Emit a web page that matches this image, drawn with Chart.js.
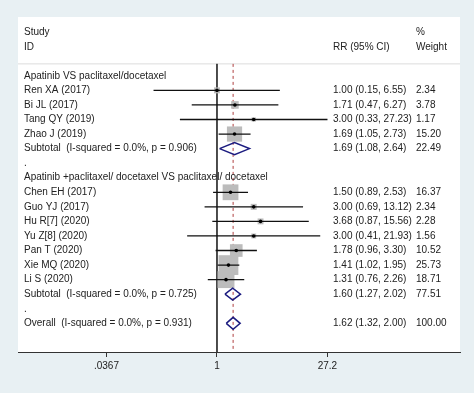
<!DOCTYPE html>
<html>
<head>
<meta charset="utf-8">
<script src="https://cdn.jsdelivr.net/npm/chart.js@4.4.1/dist/chart.umd.min.js"></script>
<style>
  html, body { margin: 0; padding: 0; background: #e8f0f3; }
  #wrap { width: 474px; height: 393px; }
</style>
</head>
<body>
<div id="wrap"><canvas id="forest" width="474" height="393"></canvas></div>
<script>
// studies
const studyLabels = ['Ren XA (2017)', 'Bi JL (2017)', 'Tang QY (2019)', 'Zhao J (2019)',
    'Chen EH (2017)', 'Guo YJ (2017)', 'Hu R[7] (2020)', 'Yu Z[8] (2020)',
    'Pan T (2020)', 'Xie MQ (2020)', 'Li S (2020)'];
const studyRR = [1.00, 1.71, 3.00, 1.69, 1.50, 3.00, 3.68, 3.00, 1.78, 1.41, 1.31];
const studyLower = [0.15, 0.47, 0.33, 1.05, 0.89, 0.69, 0.87, 0.41, 0.96, 1.02, 0.76];
const studyUpper = [6.55, 6.27, 27.23, 2.73, 2.53, 13.12, 15.56, 21.93, 3.30, 1.95, 2.26];
const studyWeight = [2.34, 3.78, 1.17, 15.20, 16.37, 2.34, 2.28, 1.56, 10.52, 25.73, 18.71];
const studyRows = [1, 2, 3, 4, 8, 9, 10, 11, 12, 13, 14];

// pooled estimates
const pooledLabels = ['Subtotal  (I-squared = 0.0%, p = 0.906)',
    'Subtotal  (I-squared = 0.0%, p = 0.725)',
    'Overall  (I-squared = 0.0%, p = 0.931)'];
const pooledRR = [1.69, 1.60, 1.62];
const pooledLower = [1.08, 1.27, 1.32];
const pooledUpper = [2.64, 2.02, 2.00];
const pooledWeight = [22.49, 77.51, 100.00];
const pooledRows = [5, 15, 17];

// group headers and spacer rows
const groupLabels = ['Apatinib VS paclitaxel/docetaxel',
    'Apatinib +paclitaxel/ docetaxel VS paclitaxel/ docetaxel'];
const groupRows = [0, 7];
const spacerRows = [6, 16];

// x axis ticks
const tickValues = [0.0367, 1, 27.2];
const tickLabels = ['.0367', '1', '27.2'];

const OVERALL = pooledRR[2];
const Y_MIN = -4.04;
const Y_MAX = 18.97;
const HEADER_LINE = -0.82;
const DIAMOND_HALF = 0.41;

const LABEL_X = 24;
const RR_X = 333;
const WEIGHT_X = 416;

function fmt(v) {
    return v.toFixed(2);
}

function ciText(rr, lo, hi) {
    return fmt(rr) + ' (' + fmt(lo) + ', ' + fmt(hi) + ')';
}

function buildCiLines() {
    let pts = [];
    studyRows.forEach((row, i) => {
        pts.push({x: Math.log10(studyLower[i]), y: row});
        pts.push({x: Math.log10(studyUpper[i]), y: row});
        pts.push({x: null, y: null});
    });
    return pts;
}

function buildDiamonds() {
    let pts = [];
    pooledRows.forEach((row, i) => {
        const lo = Math.log10(pooledLower[i]);
        const hi = Math.log10(pooledUpper[i]);
        const mid = Math.log10(pooledRR[i]);
        pts.push({x: lo, y: row});
        pts.push({x: mid, y: row - DIAMOND_HALF});
        pts.push({x: hi, y: row});
        pts.push({x: mid, y: row + DIAMOND_HALF});
        pts.push({x: lo, y: row});
        pts.push({x: null, y: null});
    });
    return pts;
}

const panelPlugin = {
    id: 'panel',
    beforeDraw(chart) {
        const ctx = chart.ctx;
        const area = chart.chartArea;
        ctx.save();
        ctx.fillStyle = '#e8f0f3';
        ctx.fillRect(0, 0, chart.width, chart.height);
        ctx.fillStyle = '#ffffff';
        ctx.fillRect(area.left, area.top, area.right - area.left, area.bottom - area.top);
        const yLine = chart.scales.y.getPixelForValue(HEADER_LINE);
        ctx.strokeStyle = '#dcdcdc';
        ctx.lineWidth = 1;
        ctx.beginPath();
        ctx.moveTo(area.left, yLine);
        ctx.lineTo(area.right, yLine);
        ctx.stroke();
        ctx.restore();
    }
};

const textPlugin = {
    id: 'forestText',
    afterDatasetsDraw(chart) {
        const ctx = chart.ctx;
        const y = chart.scales.y;
        ctx.save();
        ctx.font = '10px "Liberation Sans", Arial, sans-serif';
        ctx.fillStyle = '#222';
        ctx.textBaseline = 'middle';
        ctx.textAlign = 'left';

        ctx.fillText('Study', LABEL_X, y.getPixelForValue(-3.0));
        ctx.fillText('ID', LABEL_X, y.getPixelForValue(-1.97));
        ctx.fillText('RR (95% CI)', RR_X, y.getPixelForValue(-1.97));
        ctx.fillText('%', WEIGHT_X, y.getPixelForValue(-3.0));
        ctx.fillText('Weight', WEIGHT_X, y.getPixelForValue(-1.97));

        groupLabels.forEach((lab, i) => {
            ctx.fillText(lab, LABEL_X, y.getPixelForValue(groupRows[i]));
        });
        spacerRows.forEach(row => {
            ctx.fillText('.', LABEL_X, y.getPixelForValue(row));
        });
        studyLabels.forEach((lab, i) => {
            const py = y.getPixelForValue(studyRows[i]);
            ctx.fillText(lab, LABEL_X, py);
            ctx.fillText(ciText(studyRR[i], studyLower[i], studyUpper[i]), RR_X, py);
            ctx.fillText(fmt(studyWeight[i]), WEIGHT_X, py);
        });
        pooledLabels.forEach((lab, i) => {
            const py = y.getPixelForValue(pooledRows[i]);
            ctx.fillText(lab, LABEL_X, py);
            ctx.fillText(ciText(pooledRR[i], pooledLower[i], pooledUpper[i]), RR_X, py);
            ctx.fillText(fmt(pooledWeight[i]), WEIGHT_X, py);
        });
        ctx.restore();
    }
};

Chart.defaults.font.family = '"Liberation Sans", Arial, sans-serif';
Chart.defaults.font.size = 10;
Chart.defaults.color = '#222';

new Chart(document.getElementById('forest').getContext('2d'), {
    type: 'scatter',
    data: {
        datasets: [
            {
                // centre dots
                data: studyRows.map((row, i) => ({x: Math.log10(studyRR[i]), y: row})),
                pointStyle: 'circle',
                pointRadius: 1.8,
                pointBackgroundColor: '#000',
                pointBorderWidth: 0
            },
            {
                // confidence intervals
                data: buildCiLines(),
                showLine: true,
                spanGaps: false,
                borderColor: '#111',
                borderWidth: 1.3,
                pointRadius: 0
            },
            {
                // pooled diamonds
                data: buildDiamonds(),
                showLine: true,
                spanGaps: false,
                borderColor: '#1c1c80',
                borderWidth: 1.5,
                borderJoinStyle: 'miter',
                pointRadius: 0
            },
            {
                // weight squares
                data: studyRows.map((row, i) => ({x: Math.log10(studyRR[i]), y: row})),
                pointStyle: 'rect',
                pointRadius: ctx => 3.9 * Math.sqrt(studyWeight[ctx.dataIndex]) / Math.SQRT2,
                pointBackgroundColor: '#bcbcbc',
                pointBorderWidth: 0
            },
            {
                // overall effect line
                data: [{x: Math.log10(OVERALL), y: HEADER_LINE}, {x: Math.log10(OVERALL), y: Y_MAX}],
                showLine: true,
                borderColor: '#b04040',
                borderWidth: 1,
                borderDash: [3, 3],
                pointRadius: 0
            },
            {
                // no effect line
                data: [{x: 0, y: HEADER_LINE}, {x: 0, y: Y_MAX}],
                showLine: true,
                borderColor: '#333',
                borderWidth: 1,
                pointRadius: 0
            }
        ]
    },
    options: {
        responsive: false,
        animation: false,
        events: [],
        layout: {
            autoPadding: false,
            padding: {left: 18, right: 14, top: 17, bottom: 18}
        },
        plugins: {
            legend: {display: false},
            tooltip: {enabled: false}
        },
        scales: {
            x: {
                type: 'linear',
                min: -2.584,
                max: 3.156,
                afterBuildTicks: scale => {
                    scale.ticks = tickValues.map(v => ({value: Math.log10(v)}));
                },
                ticks: {
                    autoSkip: false,
                    maxRotation: 0,
                    padding: 3,
                    color: '#222',
                    callback: (value, index) => tickLabels[index]
                },
                grid: {
                    drawOnChartArea: false,
                    drawTicks: true,
                    tickLength: 5,
                    color: '#333'
                },
                border: {display: true, color: '#333', width: 1}
            },
            y: {
                type: 'linear',
                display: false,
                reverse: true,
                min: Y_MIN,
                max: Y_MAX
            }
        }
    },
    plugins: [panelPlugin, textPlugin]
});
</script>
</body>
</html>
